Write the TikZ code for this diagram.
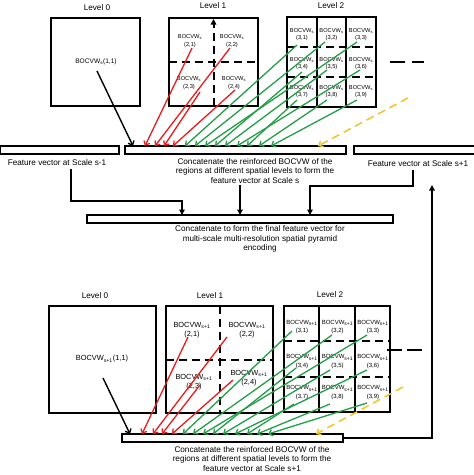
\documentclass[tikz,border=0pt]{standalone}
\usepackage{fontspec}
\setmainfont{Liberation Sans}
\usetikzlibrary{arrows.meta,calc}
\definecolor{redA}{RGB}{232,28,28}
\definecolor{greenA}{RGB}{34,158,70}
\definecolor{yellowA}{RGB}{242,196,40}
\begin{document}
\begin{tikzpicture}[x=1pt,y=-1pt,
 lbl/.style={font=\fontsize{8.2}{9.8}\selectfont, align=center, inner sep=0pt},
 cellA/.style={font=\fontsize{5.7}{7.2}\selectfont, align=center, inner sep=0pt},
 cellD/.style={font=\fontsize{6.6}{8}\selectfont, align=center, inner sep=0pt},
 cellB/.style={font=\fontsize{7.4}{9.4}\selectfont, align=center, inner sep=0pt},
 cellC/.style={font=\fontsize{6}{8.6}\selectfont, align=center, inner sep=0pt},
 boxA/.style={draw, line width=2pt, inner sep=0pt, outer sep=0pt, anchor=north west},
 bar/.style={draw, line width=1.6pt, fill=white, inner sep=0pt, outer sep=0pt, anchor=north west, minimum height=8pt},
 gridd/.style={line width=2pt, dash pattern=on 8pt off 5pt},
 gsolid/.style={line width=2pt},
 rarr/.style={draw=redA, line width=1.3pt, -{Straight Barb[length=3.5pt,width=6.5pt]}},
 garr/.style={draw=greenA, line width=1.3pt, -{Straight Barb[length=3.5pt,width=6.5pt]}},
 yarr/.style={draw=yellowA, line width=1.5pt, dash pattern=on 8pt off 5pt, -{Straight Barb[length=3.5pt,width=6.5pt]}},
 karr/.style={draw=black, line width=1.4pt, -{Straight Barb[length=3.5pt,width=6.5pt]}},
 flow/.style={draw=black, line width=1.4pt, -{Triangle[length=5.5pt,width=5.5pt]}},
]
\useasboundingbox (0,0) rectangle (474,475);

% ---------------- TOP SECTION ----------------
\node[lbl] (t0) at (97,8) {Level 0};
\node[lbl] (t1) at (213,6) {Level 1};
\node[lbl] (t2) at (331,6) {Level 2};

\node[boxA, minimum width=89pt, minimum height=88pt] (L0a) at (51,18) {};
\node[boxA, minimum width=89pt, minimum height=88pt] (L1a) at (169,18) {};
\node[boxA, minimum width=89pt, minimum height=90pt] (L2a) at (287,17) {};

% level 1 grid
\draw[gridd, -{Triangle[length=5.5pt,width=5.5pt]}] (L1a.south) -- ([yshift=-1pt]L1a.north);
\draw[gridd] (L1a.west) -- (L1a.east);
% level 2 grid
\draw[gsolid] ($(L2a.north west)!1/3!(L2a.north east)$) -- ($(L2a.south west)!1/3!(L2a.south east)$);
\draw[gsolid] ($(L2a.north west)!2/3!(L2a.north east)$) -- ($(L2a.south west)!2/3!(L2a.south east)$);
\draw[gridd] ($(L2a.north west)!1/3!(L2a.south west)$) -- ($(L2a.north east)!1/3!(L2a.south east)$);
\draw[gridd] ($(L2a.north west)!2/3!(L2a.south west)$) -- ($(L2a.north east)!2/3!(L2a.south east)$);
\coordinate (da1) at (390,62); \coordinate (da2) at (424,62);
\draw[line width=2pt, dash pattern=on 15pt off 7pt] (da1) -- (da2);

\node[cellD] (a11) at (96,62) {BOCVW\textsubscript{s}(1,1)};
\node[cellA] (a21) at (190,41) {BOCVW\textsubscript{s}\\(2,1)};
\node[cellA] (a22) at (232,41) {BOCVW\textsubscript{s}\\(2,2)};
\node[cellA] (a23) at (189,83) {BOCVW\textsubscript{s}\\(2,3)};
\node[cellA] (a24) at (234,83) {BOCVW\textsubscript{s}\\(2,4)};
\foreach \r/\yy in {0/34.5,1/63.5,2/91.5}{
 \foreach \c/\xx in {1/302,2/331.5,3/361}{
  \pgfmathtruncatemacro{\k}{3*\r+\c}
  \node[cellA] (a3\k) at (\xx,\yy) {BOCVW\textsubscript{s}\\(3,\k)};
 }}

% bars
\node[bar, minimum width=119pt] (barL) at (0,146) {};
\node[bar, minimum width=221pt] (barS) at (125,146) {};
\node[bar, minimum width=122pt] (barR) at (354,146) {};

\node[lbl] (fvL) at (57,163) {Feature vector at Scale s-1};
\node[lbl] (fvS) at (255,171) {Concatenate the reinforced BOCVW of the\\regions at different spatial levels to form the\\feature vector at Scale s};
\node[lbl] (fvR) at (418,164) {Feature vector at Scale s+1};

% arrows into top bar
\coordinate (ks) at (97,71); \coordinate (ke) at (133,146);
\draw[karr] (ks) -- (ke);
\foreach \i/\sx/\sy/\ex in {1/192/48/145, 2/230/48/155, 3/200/92/164, 4/235/90/173}{
 \coordinate (rs\i) at (\sx,\sy); \coordinate (re\i) at (\ex,146);
 \draw[rarr] (rs\i) -- (re\i);}
\foreach \i/\sx/\sy/\ex in {1/297/45/185, 2/325/42/195, 3/357/42/205, 4/302/72/215, 5/327/70/225, 6/360/70/237, 7/297/100/247, 8/327/100/259, 9/357/100/271}{
 \coordinate (gs\i) at (\sx,\sy); \coordinate (ge\i) at (\ex,146);
 \draw[garr] (gs\i) -- (ge\i);}
\coordinate (ys) at (408,98); \coordinate (ye) at (318,146);
\draw[yarr] (ys) -- (ye);

% ---------------- MIDDLE ----------------
\node[bar, minimum width=306pt] (fin) at (87,215) {};
\node[lbl] (finT) at (260,239) {Concatenate to form the final feature vector for\\multi-scale multi-resolution spatial pyramid\\encoding};

\coordinate (f1s) at (71,169); \coordinate (f1a) at (71,201); \coordinate (f1b) at (182,201); \coordinate (f1e) at (182,215);
\draw[flow] (f1s) -- (f1a) -- (f1b) -- (f1e);
\coordinate (f2s) at (240,185); \coordinate (f2e) at (240,215);
\draw[flow] (f2s) -- (f2e);
\coordinate (f3s) at (413,170); \coordinate (f3a) at (413,186); \coordinate (f3b) at (310,186); \coordinate (f3e) at (310,215);
\draw[flow] (f3s) -- (f3a) -- (f3b) -- (f3e);

% ---------------- BOTTOM SECTION ----------------
\node[lbl] (b0) at (95,296) {Level 0};
\node[lbl] (b1) at (210,296) {Level 1};
\node[lbl] (b2) at (330,295) {Level 2};

\node[boxA, minimum width=107pt, minimum height=107pt] (L0b) at (49,306) {};
\node[boxA, minimum width=107pt, minimum height=107pt] (L1b) at (166,306) {};
\node[boxA, minimum width=106pt, minimum height=106pt] (L2b) at (284,306) {};

\draw[gridd] (L1b.north) -- (L1b.south);
\draw[gridd] (L1b.west) -- (L1b.east);
\draw[gsolid] ($(L2b.north west)!1/3!(L2b.north east)$) -- ($(L2b.south west)!1/3!(L2b.south east)$);
\draw[gsolid] ($(L2b.north west)!2/3!(L2b.north east)$) -- ($(L2b.south west)!2/3!(L2b.south east)$);
\draw[gridd] ($(L2b.north west)!1/3!(L2b.south west)$) -- ($(L2b.north east)!1/3!(L2b.south east)$);
\draw[gridd] ($(L2b.north west)!2/3!(L2b.south west)$) -- ($(L2b.north east)!2/3!(L2b.south east)$);
\coordinate (db1) at (387,350); \coordinate (db2) at (422,350);
\draw[line width=2pt, dash pattern=on 15pt off 5pt] (db1) -- (db2);

\node[cellB] (b11) at (102,359) {BOCVW\textsubscript{s+1}(1,1)};
\node[cellB] (b21) at (192,330) {BOCVW\textsubscript{s+1}\\(2,1)};
\node[cellB] (b22) at (247,330) {BOCVW\textsubscript{s+1}\\(2,2)};
\node[cellB] (b23) at (194,382) {BOCVW\textsubscript{s+1}\\(2,3)};
\node[cellB] (b24) at (249,378) {BOCVW\textsubscript{s+1}\\(2,4)};
\foreach \r/\yy in {0/327,1/361.5,2/392.5}{
 \foreach \c/\xx in {1/302,2/337.5,3/373}{
  \pgfmathtruncatemacro{\k}{3*\r+\c}
  \node[cellC] (c3\k) at (\xx,\yy) {BOCVW\textsubscript{s+1}\\(3,\k)};
 }}

\node[bar, minimum width=221pt] (barB) at (122,434) {};
\node[lbl] (fvB) at (252,459) {Concatenate the reinforced BOCVW of the\\regions at different spatial levels to form the\\feature vector at Scale s+1};

\coordinate (kbs) at (103,378); \coordinate (kbe) at (130,434);
\draw[karr] (kbs) -- (kbe);
\foreach \i/\sx/\sy/\ex in {1/188/337/142, 2/227/337/153, 3/200/385/162, 4/233/380/172}{
 \coordinate (rbs\i) at (\sx,\sy); \coordinate (rbe\i) at (\ex,434);
 \draw[rarr] (rbs\i) -- (rbe\i);}
\foreach \i/\sx/\sy/\ex in {1/292/331/183, 2/332/335/193, 3/367/335/203, 4/296/368/213, 5/330/370/223, 6/367/370/235, 7/294/404/247, 8/330/404/257, 9/367/403/268}{
 \coordinate (gbs\i) at (\sx,\sy); \coordinate (gbe\i) at (\ex,434);
 \draw[garr] (gbs\i) -- (gbe\i);}
\coordinate (ybs) at (403,387); \coordinate (ybe) at (316,434);
\draw[yarr] (ybs) -- (ybe);

% feedback
\coordinate (fbc) at (432,438); \coordinate (fbe) at (432,185);
\draw[flow] (barB.east) -- (fbc) -- (fbe);
\end{tikzpicture}
\end{document}
